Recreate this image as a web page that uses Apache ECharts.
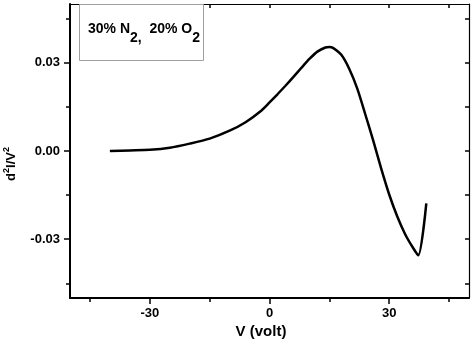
<!DOCTYPE html>
<html>
<head>
<meta charset="utf-8">
<style>
  html, body { margin: 0; padding: 0; background: #fff; }
  #chart { width: 474px; height: 343px; }
</style>
<script src="https://cdn.jsdelivr.net/npm/echarts@6/dist/echarts.min.js"></script>
</head>
<body>
<div id="chart"></div>
<script>
// Second-derivative probe characteristic, d²I/dV² versus bias voltage
const voltage = [-40, -35, -30, -25, -20, -15, -10, -6, -2, 0, 2, 4, 6, 8, 10, 12, 14, 15, 16, 18, 20, 22, 24, 26, 28, 30, 32, 34, 36, 37.3, 39.3];
const d2I = [0.0000, 0.0002, 0.0004, 0.0011, 0.0025, 0.0042, 0.0069, 0.0098, 0.0138, 0.0165, 0.0193, 0.0222, 0.0252, 0.0283, 0.0313, 0.0338, 0.0352, 0.0354, 0.0350, 0.0327, 0.0279, 0.0212, 0.0125, 0.0035, -0.0060, -0.0148, -0.0222, -0.0283, -0.0330, -0.0355, -0.0178];

const xMajorTicks = [-30, 0, 30];
const xMinorTicks = [-45, -15, 15, 45];
const yMajorTicks = [-0.03, 0, 0.03];
const yMinorTicks = [-0.045, -0.015, 0.015, 0.045];
const xRange = [-50, 50];
const yRange = [-0.05, 0.05];

const FONT = '"Liberation Sans", Arial, sans-serif';
const allX = xMinorTicks.concat(xMajorTicks).sort((a, b) => a - b);
const allY = yMinorTicks.concat(yMajorTicks).sort((a, b) => a - b);

function xAxisDef(position, ticks, len, inside, showLine, lineWidth, labels) {
  return {
    type: 'value', position: position, min: xRange[0], max: xRange[1],
    splitLine: { show: false },
    axisLine: { show: showLine, onZero: false, lineStyle: { color: '#000', width: lineWidth } },
    axisTick: { show: true, inside: inside, length: len, customValues: ticks, lineStyle: { color: '#000', width: 1.5 } },
    axisLabel: labels ? {
      show: true, customValues: labels, margin: 9, color: '#000',
      fontFamily: FONT, fontWeight: 'bold', fontSize: 13
    } : { show: false }
  };
}
function yAxisDef(position, ticks, len, inside, showLine, lineWidth, labels) {
  return {
    type: 'value', position: position, min: yRange[0], max: yRange[1],
    splitLine: { show: false },
    axisLine: { show: showLine, onZero: false, lineStyle: { color: '#000', width: lineWidth } },
    axisTick: { show: true, inside: inside, length: len, customValues: ticks, lineStyle: { color: '#000', width: 1.5 } },
    axisLabel: labels ? {
      show: true, customValues: labels, margin: 10, color: '#000',
      fontFamily: FONT, fontWeight: 'bold', fontSize: 13,
      formatter: v => v.toFixed(2)
    } : { show: false }
  };
}

const chart = echarts.init(document.getElementById('chart'), null, { renderer: 'canvas' });
chart.setOption({
  animation: false,
  backgroundColor: '#fff',
  grid: { left: 70, right: 5, top: 4, bottom: 45, containLabel: false },
  xAxis: [
    xAxisDef('bottom', xMajorTicks, 6, false, true, 2, xMajorTicks),
    xAxisDef('bottom', xMinorTicks, 4, false, false, 2, null),
    xAxisDef('top', allX, 4, true, true, 1.2, null)
  ],
  yAxis: [
    yAxisDef('left', yMajorTicks, 6, false, true, 2, yMajorTicks),
    yAxisDef('left', yMinorTicks, 4, false, false, 2, null),
    yAxisDef('right', allY, 4, true, true, 1.2, null)
  ],
  series: [{
    type: 'line',
    xAxisIndex: 0, yAxisIndex: 0,
    data: voltage.map((v, i) => [v, d2I[i]]),
    smooth: 0.25,
    showSymbol: false,
    lineStyle: { color: '#000', width: 2.5 }
  }],
  graphic: [
    {
      type: 'rect', z: 10,
      shape: { x: 79.5, y: 4.5, width: 124, height: 56 },
      style: { fill: '#fff', stroke: '#a0a0a0', lineWidth: 1 }
    },
    {
      type: 'text', z: 11, x: 144, y: 34,
      style: {
        text: '{a|30% N}{b|2,}{a|  20% O}{b|2}',
        align: 'center', verticalAlign: 'middle',
        rich: {
          a: { fontFamily: FONT, fontWeight: 'bold', fontSize: 14, lineHeight: 15, verticalAlign: 'top', fill: '#000' },
          b: { fontFamily: FONT, fontWeight: 'bold', fontSize: 14, lineHeight: 23, verticalAlign: 'bottom', fill: '#000' }
        }
      }
    },
    {
      type: 'text', z: 11, x: 10, y: 164, rotation: Math.PI / 2,
      style: {
        text: '{a|d}{s|2}{a|I/V}{s|2}',
        align: 'center', verticalAlign: 'middle',
        rich: {
          a: { fontFamily: FONT, fontWeight: 'bold', fontSize: 13, lineHeight: 16, verticalAlign: 'bottom', fill: '#000' },
          s: { fontFamily: FONT, fontWeight: 'bold', fontSize: 9, lineHeight: 9, verticalAlign: 'top', fill: '#000' }
        }
      }
    },
    {
      type: 'text', z: 11, x: 261, y: 332,
      style: {
        text: 'V (volt)', align: 'center', verticalAlign: 'middle',
        fontFamily: FONT, fontWeight: 'bold', fontSize: 15, fill: '#000'
      }
    }
  ]
});
</script>
</body>
</html>
